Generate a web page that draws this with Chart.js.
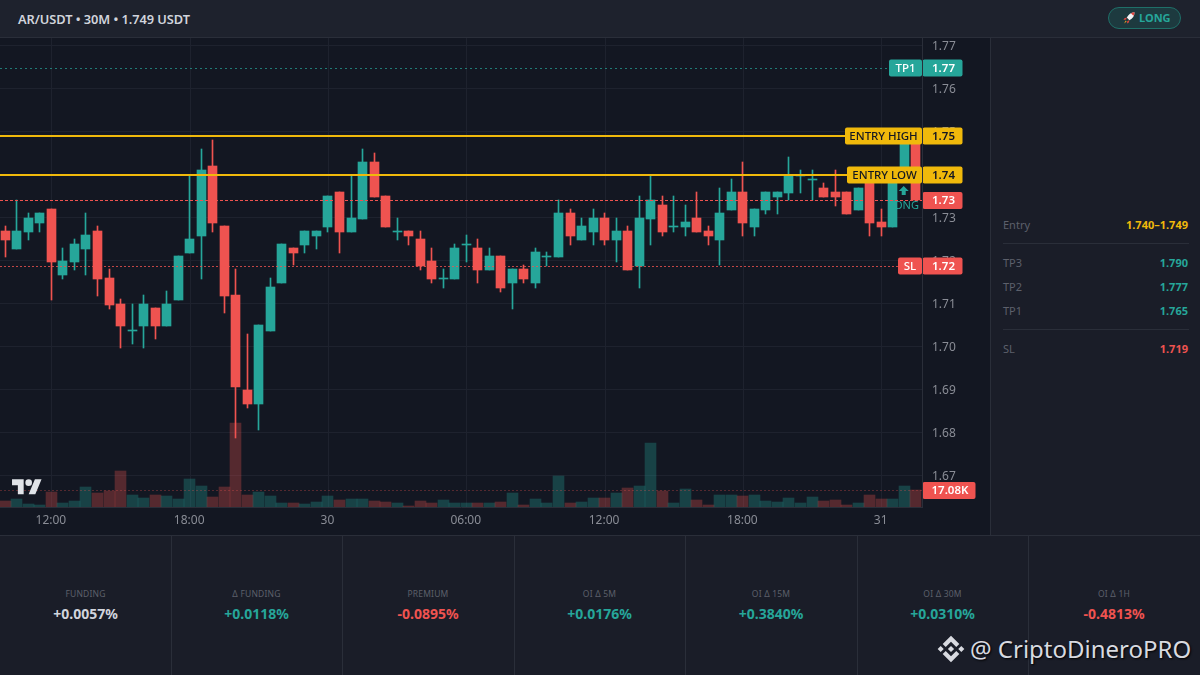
<!DOCTYPE html>
<html><head><meta charset="utf-8">
<script src="https://cdn.jsdelivr.net/npm/chart.js@4"></script>
<style>
html,body{margin:0;padding:0;background:#131722;width:1200px;height:675px;overflow:hidden;font-family:"Noto Sans",sans-serif}
#hdr{position:absolute;left:0;top:0;width:1200px;height:37px;background:#1e222d;border-bottom:1px solid #2a2e39}
#ttl{position:absolute;left:18px;top:10px;font-size:12.8px;font-weight:600;color:#d1d4dc;line-height:18px;letter-spacing:-.05px}
#pill{position:absolute;left:1108px;top:7px;width:71px;height:20px;border:1px solid #1f6f68;border-radius:11px;background:#1d3a3f}
#pill span{position:absolute;left:30px;top:2px;font-size:11px;font-weight:700;color:#26a69a;line-height:16px}
#pill svg{position:absolute;left:13px;top:3px}
#wrap{position:absolute;left:0;top:38px;width:990px;height:497px}
#side{position:absolute;left:990px;top:38px;width:210px;height:497px;background:#1a1d28;border-left:1px solid #2a2e39;box-sizing:border-box}
.row{position:absolute;left:12px;width:186px;font-size:11px;line-height:16px;color:#5d606b}
.row b{position:absolute;right:1px;top:0;font-weight:700}
.div{position:absolute;left:12px;width:186px;height:1px;background:#2a2e39}
#bot{position:absolute;left:0;top:535px;width:1200px;height:140px;background:#1a1d28;border-top:1px solid #2a2e39;box-sizing:border-box}
.cell{position:absolute;top:0;height:140px;border-right:1px solid #2a2e39;box-sizing:border-box;text-align:center}
.cell .l{position:absolute;left:0;right:0;top:52px;font-size:8.5px;line-height:12px;color:#5d606b;letter-spacing:.2px}
.cell .v{position:absolute;left:0;right:0;top:68px;font-size:14px;line-height:20px;font-weight:700}
#wm{position:absolute;left:970px;top:631px;font-size:24px;line-height:36px;color:#d8dae0;text-shadow:1px 1px 2px #000;white-space:nowrap}
</style></head><body>
<div id="wrap"><canvas id="c" width="990" height="497"></canvas></div>
<div id="hdr"><div id="ttl">AR/USDT • 30M • 1.749 USDT</div>
<div id="pill"><svg width="14" height="14" viewBox="0 0 14 14"><path d="M12.5 1.2C9 1.4 6.5 3.2 4.8 6.6l2.6 2.6c3.4-1.7 5.2-4.200 5.100-8z" fill="#f2f3f5"/><path d="M12.500 1.200c-1.400.1-2.600.4-3.600 1l2.600 2.600c.6-1 1-2.200 1-3.600z" fill="#e0453f"/><path d="M4.800 6.600L2.400 7.200 1.500 9l2.600-.4zM7.400 9.200L6.800 11.600 5 12.500l.4-2.600z" fill="#e0453f"/><path d="M3.600 9.400l1 1-2.400 2.200z" fill="#f0a020"/></svg><span>LONG</span></div></div>
<div id="side"></div>
<div id="bot"></div>
<svg style="position:absolute;left:12px;top:476px" width="30" height="23.300" viewBox="0 0 36 28"><path fill="#e0e3e8" d="M14 22H7V11H0V4h14v18zM28 22h-8l7.500-18h8L28 22z"/><circle fill="#e0e3e8" cx="20" cy="8" r="4"/></svg>
<svg style="position:absolute;left:937px;top:635px" width="28" height="28" viewBox="0 0 124 124"><path fill="#d8dae0" d="M38.730 53.200L62 29.940l23.280 23.280 13.540-13.540L62 2.850 25.190 39.660zM2.850 62l13.540-13.540L29.930 62 16.390 75.540zM38.730 70.800L62 94.060l23.280-23.280 13.550 13.530L62 121.150 25.190 84.340zM94.070 62l13.540-13.540L121.150 62l-13.540 13.540zM75.740 62L62 48.260 48.260 62 62 75.740z"/></svg>
<div id="wm">@ CriptoDineroPRO</div>
<script>
const categories=["10:00","10:30","11:00","11:30","12:00","12:30","13:00","13:30","14:00","14:30","15:00","15:30","16:00","16:30","17:00","17:30","18:00","18:30","19:00","19:30","20:00","20:30","21:00","21:30","22:00","22:30","23:00","23:30","30","00:30","01:00","01:30","02:00","02:30","03:00","03:30","04:00","04:30","05:00","05:30","06:00","06:30","07:00","07:30","08:00","08:30","09:00","09:30","10:00","10:30","11:00","11:30","12:00","12:30","13:00","13:30","14:00","14:30","15:00","15:30","16:00","16:30","17:00","17:30","18:00","18:30","19:00","19:30","20:00","20:30","21:00","21:30","22:00","22:30","23:00","23:30","31","00:30","01:00","01:30"];
const tickLabels=["12:00","18:00","30","06:00","12:00","18:00","31"];
const opens=[1.7269,1.7227,1.7266,1.7287,1.7320,1.7166,1.7197,1.7227,1.7269,1.7159,1.7099,1.7037,1.7048,1.7089,1.7048,1.7108,1.7217,1.7257,1.7420,1.7280,1.7120,1.6899,1.6866,1.7036,1.7148,1.7229,1.7236,1.7257,1.7278,1.7359,1.7266,1.7297,1.7429,1.7350,1.7267,1.7269,1.7250,1.7199,1.7157,1.7157,1.7237,1.7229,1.7178,1.7210,1.7148,1.7180,1.7148,1.7209,1.7208,1.7310,1.7248,1.7266,1.7299,1.7248,1.7269,1.7187,1.7297,1.7329,1.7278,1.7278,1.7299,1.7269,1.7248,1.7317,1.7359,1.7278,1.7317,1.7348,1.7357,1.7398,1.7388,1.7369,1.7359,1.7359,1.7317,1.7399,1.7290,1.7278,1.7387,1.7490];
const highs=[1.7280,1.7340,1.7310,1.7310,1.7320,1.7229,1.7250,1.7310,1.7280,1.7180,1.7110,1.7099,1.7120,1.7089,1.7129,1.7210,1.7399,1.7459,1.7480,1.7280,1.7180,1.7029,1.7050,1.7159,1.7238,1.7229,1.7269,1.7269,1.7350,1.7359,1.7399,1.7459,1.7450,1.7350,1.7299,1.7269,1.7269,1.7229,1.7180,1.7238,1.7259,1.7250,1.7229,1.7210,1.7180,1.7190,1.7229,1.7220,1.7340,1.7320,1.7299,1.7320,1.7310,1.7299,1.7280,1.7350,1.7397,1.7350,1.7350,1.7329,1.7359,1.7280,1.7369,1.7390,1.7429,1.7320,1.7359,1.7359,1.7441,1.7410,1.7410,1.7380,1.7410,1.7359,1.7369,1.7399,1.7320,1.7387,1.7492,1.7500];
const lows=[1.7208,1.7227,1.7248,1.7266,1.7108,1.7157,1.7178,1.7166,1.7117,1.7087,1.6997,1.7006,1.6997,1.7017,1.7048,1.7108,1.7217,1.7157,1.7266,1.7078,1.6787,1.6857,1.6806,1.7036,1.7148,1.7190,1.7217,1.7227,1.7266,1.7217,1.7266,1.7297,1.7348,1.7278,1.7248,1.7236,1.7178,1.7148,1.7136,1.7157,1.7197,1.7148,1.7178,1.7127,1.7087,1.7148,1.7136,1.7187,1.7208,1.7236,1.7248,1.7236,1.7236,1.7197,1.7178,1.7136,1.7236,1.7257,1.7266,1.7257,1.7266,1.7236,1.7190,1.7317,1.7257,1.7257,1.7308,1.7308,1.7340,1.7357,1.7340,1.7348,1.7327,1.7308,1.7317,1.7257,1.7257,1.7278,1.7387,1.7340];
const closes=[1.7248,1.7269,1.7299,1.7310,1.7197,1.7199,1.7238,1.7259,1.7157,1.7097,1.7048,1.7039,1.7099,1.7048,1.7099,1.7210,1.7250,1.7410,1.7287,1.7117,1.6906,1.6866,1.7050,1.7138,1.7238,1.7217,1.7269,1.7269,1.7350,1.7266,1.7299,1.7429,1.7348,1.7278,1.7269,1.7257,1.7187,1.7157,1.7159,1.7229,1.7239,1.7178,1.7210,1.7136,1.7180,1.7157,1.7220,1.7211,1.7310,1.7257,1.7280,1.7299,1.7248,1.7269,1.7178,1.7299,1.7340,1.7266,1.7280,1.7290,1.7266,1.7257,1.7310,1.7359,1.7287,1.7320,1.7359,1.7359,1.7397,1.7400,1.7390,1.7348,1.7348,1.7308,1.7369,1.7287,1.7278,1.7387,1.7490,1.7340];
const volumes=[6,8,3,2,15,4,6,20,14,16,36,12,9,12,11,8,28,21,10,20,84,12,15,11,4,4,3,5,11,7,8,8,6,5,4,1,6,4,7,4,4,4,4,5,14,2,8,4,31,4,5,9,9,14,19,21,64,16,4,18,7,2,12,12,11,12,6,5,9,4,10,6,7,2,4,12,8,8,21,17.08];
const levelEntryHigh=1.7491, levelEntryLow=1.7399, levelTP1=1.7648, levelSL=1.7188, levelLast=1.7341;
const lastVolume=17.08;

const UP='#26a69a',DN='#ef5350',GOLD='#f0b90b';
const isUp=opens.map((o,i)=>closes[i]>=o);
const rows=[["Entry","1.740–1.749",GOLD,217],["TP3","1.790",UP,255],["TP2","1.777",UP,279],["TP1","1.765",UP,303],["SL","1.719",DN,341]];
const side=document.getElementById('side');
rows.forEach(r=>{side.insertAdjacentHTML('beforeend',`<div class="row" style="top:${r[3]-38}px">${r[0]}<b style="color:${r[2]}">${r[1]}</b></div>`)});
[243,329].forEach(y=>side.insertAdjacentHTML('beforeend',`<div class="div" style="top:${y-38}px"></div>`));
const cells=[["FUNDING","+0.0057%","#d1d4dc"],["Δ FUNDING","+0.0118%",UP],["PREMIUM","-0.0895%","#ef5350"],["OI Δ 5M","+0.0176%",UP],["OI Δ 15M","+0.3840%",UP],["OI Δ 30M","+0.0310%",UP],["OI Δ 1H","-0.4813%","#ef5350"]];
const bot=document.getElementById('bot');
cells.forEach((c,i)=>{const l=Math.floor(i*1200/7),r=Math.floor((i+1)*1200/7);bot.insertAdjacentHTML('beforeend',`<div class="cell" style="left:${l}px;width:${r-l+(i<6?1:0)}px;${i==6?'border:0':''}"><div class="l">${c[0]}</div><div class="v" style="color:${c[2]}">${c[1]}</div></div>`)});

function tag(ctx,x,y,w,h,bg,fg,text,weight,dx){
  ctx.fillStyle=bg;ctx.beginPath();ctx.roundRect(x,y,w,h,2);ctx.fill();
  ctx.fillStyle=fg;ctx.font=(weight||400)+' 11.5px "Noto Sans"';ctx.textBaseline='middle';ctx.textAlign='center';
  ctx.fillText(text,x+w/2+(dx||0),y+h/2+.5);
}
const snap={id:'snap',afterDatasetsUpdate(ch){
  ch.data.datasets.forEach((d,i)=>ch.getDatasetMeta(i).data.forEach(el=>{
    el.x=Math.floor(el.x-.47)+.5;
    el.y=Math.round(el.y);el.base=Math.round(el.base);
    if(el.y===el.base)el.base=el.y+1;
  }));
}};
const marker={id:'marker',beforeDatasetsDraw(ch){
  const c=ch.ctx,x=ch.scales.x.getPixelForValue(78)-1,y=ch.scales.y.getPixelForValue(levelLast);
  c.save();c.fillStyle=UP;c.textAlign='center';c.textBaseline='middle';
  c.font='11px "Noto Sans"';c.fillText('LONG',x,y+5.5);
  c.restore();
}};
const over={id:'over',afterDatasetsDraw(ch){
  const c=ch.ctx,Y=ch.scales.y,V=ch.scales.y1,R=ch.chartArea.right,pct=v=>Math.round(Y.getPixelForValue(v))+.5;
  const line=(y,col,w,dash)=>{c.save();c.strokeStyle=col;c.lineWidth=w;c.setLineDash(dash);c.beginPath();c.moveTo(0,y);c.lineTo(R,y);c.stroke();c.restore();};
  line(pct(levelTP1),'rgba(38,166,154,.7)',1,[2,3]);
  line(pct(levelSL),'rgba(239,83,80,.8)',1,[2,2]);
  line(pct(levelLast),DN,1,[3,2]);
  line(Math.round(V.getPixelForValue(lastVolume))+.5,'rgba(239,83,80,.3)',1,[2,2]);
  line(Math.round(Y.getPixelForValue(levelEntryHigh)),GOLD,2,[]);
  line(Math.round(Y.getPixelForValue(levelEntryLow)),GOLD,2,[]);
  const ax=ch.scales.x.getPixelForValue(78)-1,ay=Y.getPixelForValue(levelLast)-9;
  c.save();c.fillStyle=UP;c.beginPath();c.moveTo(ax,ay-5);c.lineTo(ax+5,ay);c.lineTo(ax+2,ay);c.lineTo(ax+2,ay+4);c.lineTo(ax-2,ay+4);c.lineTo(ax-2,ay);c.lineTo(ax-5,ay);c.closePath();c.fill();c.restore();
  const tags=[[levelTP1,'TP1',33,UP,'#fff','1.77'],[levelEntryHigh,'ENTRY HIGH',77,GOLD,'#131722','1.75'],[levelEntryLow,'ENTRY LOW',75,GOLD,'#131722','1.74'],[levelSL,'SL',24,DN,'#fff','1.72']];
  tags.forEach(t=>{const y=Math.round(Y.getPixelForValue(t[0]))-8.5;
    tag(c,R-t[2],y,t[2],17,t[3],t[4],t[1],500);
    tag(c,R+.5,y,40,17,t[3],t[4],t[5],600,1);
  });
  tag(c,R+.5,Math.round(Y.getPixelForValue(levelLast))-8,40,17,DN,'#fff','1.73',600,1);
  tag(c,R+.5,Math.round(V.getPixelForValue(lastVolume))-8,53,17,DN,'#fff','17.08K',600,1);
  c.save();c.strokeStyle='#2a2e39';c.lineWidth=1;c.beginPath();c.moveTo(R+.5,0);c.lineTo(R+.5,ch.chartArea.bottom);c.stroke();c.restore();
}};
new Chart(document.getElementById('c'),{
  type:'bar',
  data:{labels:categories,datasets:[
    {label:'Volume',yAxisID:'y1',order:3,grouped:false,barThickness:11,data:volumes,backgroundColor:isUp.map(u=>u?'rgba(38,166,154,.3)':'rgba(239,83,80,.3)')},
    {label:'Wick',yAxisID:'y',order:2,grouped:false,barThickness:1,data:lows.map((l,i)=>[l,highs[i]]),backgroundColor:isUp.map(u=>u?UP:DN)},
    {label:'Body',yAxisID:'y',order:1,grouped:false,barThickness:9,data:opens.map((o,i)=>[o,closes[i]]),backgroundColor:isUp.map(u=>u?UP:DN)}
  ]},
  options:{
    responsive:false,animation:false,devicePixelRatio:1,
    layout:{padding:0},
    plugins:{legend:{display:false},tooltip:{enabled:false}},
    scales:{
      x:{offset:true,
        grid:{offset:false,color:'#1e222e',drawTicks:false},
        border:{color:'#2a2e39'},
        afterBuildTicks(s){s.ticks=s.ticks.filter(t=>tickLabels.includes(categories[t.value]));},
        afterFit(s){s.height=28;s.paddingLeft=0;s.paddingRight=0;},
        ticks:{autoSkip:false,maxRotation:0,color:'#8a8d96',font:{family:'"Noto Sans"',size:12},padding:6,labelOffset:-1,
          callback(v){return categories[v];}}},
      y:{position:'right',min:1.66272,max:1.77179,
        grid:{color:'#1e222e',drawTicks:false},
        border:{color:'#2a2e39'},
        afterFit(s){s.width=68;s.paddingTop=0;s.paddingBottom=0;},
        ticks:{stepSize:.01,includeBounds:false,color:'#8a8d96',font:{family:'"Noto Sans"',size:12},padding:10,labelOffset:1,
          callback(v){return v.toFixed(2);}}},
      y1:{display:false,position:'right',min:0,max:469}
    }
  },
  plugins:[snap,marker,over]
});
</script>
</body></html>
